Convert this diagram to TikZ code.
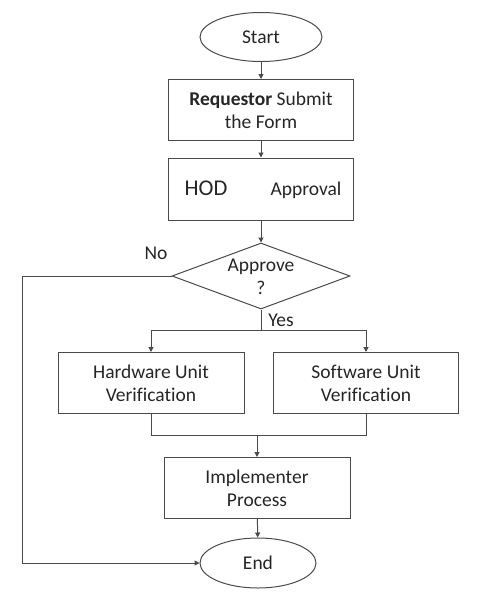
\documentclass[tikz,border=0pt]{standalone}
\usepackage{fontspec}
\setmainfont{Carlito}[RawFeature=-liga]
\usetikzlibrary{shapes.geometric,arrows.meta}
\definecolor{lnc}{HTML}{4A4A4A}
\definecolor{txc}{HTML}{262626}
\begin{document}
\begin{tikzpicture}[x=1pt,y=-1pt,
  every node/.style={text=txc,font=\fontsize{19.5}{23}\selectfont,align=center},
  term/.style={ellipse,draw=lnc,line width=1pt,inner sep=0pt},
  proc/.style={rectangle,draw=lnc,line width=1pt,inner sep=0pt},
  dec/.style={diamond,draw=lnc,line width=1pt,inner sep=0pt},
  conn/.style={draw=lnc,line width=1pt},
  arr/.style={conn,-{Triangle[length=5pt,width=5pt]}}]
\useasboundingbox (0,0) rectangle (495,595);
\fill[white] (0,0) rectangle (495,595);
\node[term,minimum width=122pt,minimum height=49pt] (start) at (261,37) {Start};
\node[proc,minimum width=185pt,minimum height=61pt] (req) at (261,110) {\textbf{Requestor} Submit\\the Form};
\node[proc,minimum width=185pt,minimum height=62pt] (hod) at (261,189) {};
\node[font=\fontsize{22.5}{26}\selectfont] (hodt) at (206,188) {HOD};
\node (appr) at (306,190) {Approval};
\node[dec,minimum width=178pt,minimum height=66pt,aspect=2.7] (dec) at (261,276) {};
\node (dect) at (261,277) {Approve\\?};
\node (no) at (156,253) {No};
\node (yes) at (281,320) {Yes};
\node[proc,minimum width=186pt,minimum height=61pt] (hw) at (151,383) {Hardware Unit\\Verification};
\node[proc,minimum width=185pt,minimum height=61pt] (sw) at (366,383) {Software Unit\\Verification};
\node[proc,minimum width=186pt,minimum height=61pt] (imp) at (257,488) {Implementer\\Process};
\node[term,minimum width=116pt,minimum height=50pt] (end) at (258,563) {End};
\coordinate (split) at (261,330);
\coordinate (merge) at (257,435);
\coordinate (nocorner) at (22,276);
\draw[arr] (start) -- (req);
\draw[arr] (req) -- (hod);
\draw[arr] (hod) -- (dec);
\draw[conn] (dec.south) -- (split);
\draw[arr] (split) -| (hw.north);
\draw[arr] (split) -| (sw.north);
\draw[conn] (hw.south) |- (merge);
\draw[conn] (sw.south) |- (merge);
\draw[arr] (merge) -- (imp);
\draw[arr] (imp) -- (end);
\draw[arr] (dec.west) -- (nocorner) |- (end.west);
\end{tikzpicture}
\end{document}
